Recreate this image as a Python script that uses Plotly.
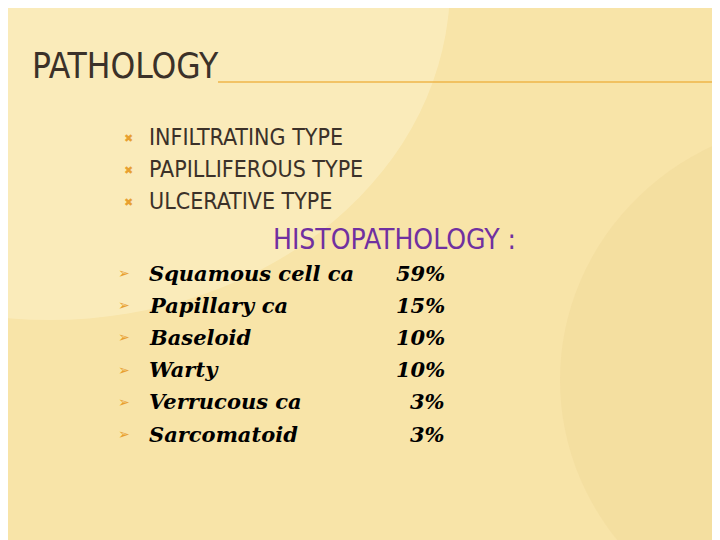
import plotly.graph_objects as go

# slide content
title = "PATHOLOGY"
gross_types = ["INFILTRATING TYPE", "PAPILLIFEROUS TYPE", "ULCERATIVE TYPE"]
histo_heading = "HISTOPATHOLOGY :"
histo_types = ["Squamous cell ca", "Papillary ca", "Baseloid", "Warty", "Verrucous ca", "Sarcomatoid"]
histo_pct = [59, 15, 10, 10, 3, 3]

NARROW = "DejaVu Sans Condensed, Liberation Sans Narrow, Liberation Sans"

fig = go.Figure()

# soft background: cream with a lighter wash top-left and a faint disc to the right
fig.add_shape(type="rect", xref="x", yref="y", x0=-20, x1=760, y0=-20, y1=560,
              fillcolor="#F8E4A8", line_width=0, layer="below")
fig.add_shape(type="circle", xref="x", yref="y", x0=-350, x1=450, y0=-350, y1=320,
              fillcolor="rgba(255,248,220,0.35)", line_width=0, layer="below")
fig.add_shape(type="circle", xref="x", yref="y", x0=560, x1=1100, y0=120, y1=640,
              fillcolor="rgba(225,200,130,0.18)", line_width=0, layer="below")

# title and rule
fig.add_annotation(x=30, y=88, text=title, showarrow=False, xanchor="left", yanchor="bottom",
                   font=dict(family=NARROW, size=35, color="#3B3129"))
fig.add_shape(type="line", xref="x", yref="y", x0=218, x1=720, y0=82, y1=82,
              line=dict(color="#EFB64A", width=1.5))

# gross types
for i, t in enumerate(gross_types):
    y = 137 + 32 * i
    fig.add_annotation(x=128, y=y, text="✖", showarrow=False, xanchor="center",
                       font=dict(size=11, color="#E8A030"))
    fig.add_annotation(x=147, y=y, text=t, showarrow=False, xanchor="left",
                       font=dict(family=NARROW, size=23, color="#3B3129"))

fig.add_annotation(x=394, y=239, text=histo_heading, showarrow=False, xanchor="center",
                   font=dict(family=NARROW, size=28, color="#7030A0"))

# histopathology list
for i, (name, pct) in enumerate(zip(histo_types, histo_pct)):
    y = 273 + 32.2 * i
    fig.add_annotation(x=124, y=y, text="➢", showarrow=False, xanchor="center",
                       font=dict(family="DejaVu Sans", size=14, color="#E8A030"))
    fig.add_annotation(x=147, y=y, text=f"<b><i>{name}</i></b>", showarrow=False, xanchor="left",
                       font=dict(family="DejaVu Serif", size=21, color="black"))
    fig.add_annotation(x=447, y=y, text=f"<b><i>{pct}%</i></b>", showarrow=False, xanchor="right",
                       font=dict(family="DejaVu Serif", size=21, color="black"))

# the page adds an 8px offset, so shift the ranges to keep slide pixel coordinates
fig.update_xaxes(range=[8, 728], visible=False, fixedrange=True)
fig.update_yaxes(range=[548, 8], visible=False, fixedrange=True)
fig.update_layout(width=720, height=540, margin=dict(l=0, r=0, t=0, b=0),
                  paper_bgcolor="#F8E4A8", plot_bgcolor="#F8E4A8", showlegend=False)

fig.write_html("out.html")
